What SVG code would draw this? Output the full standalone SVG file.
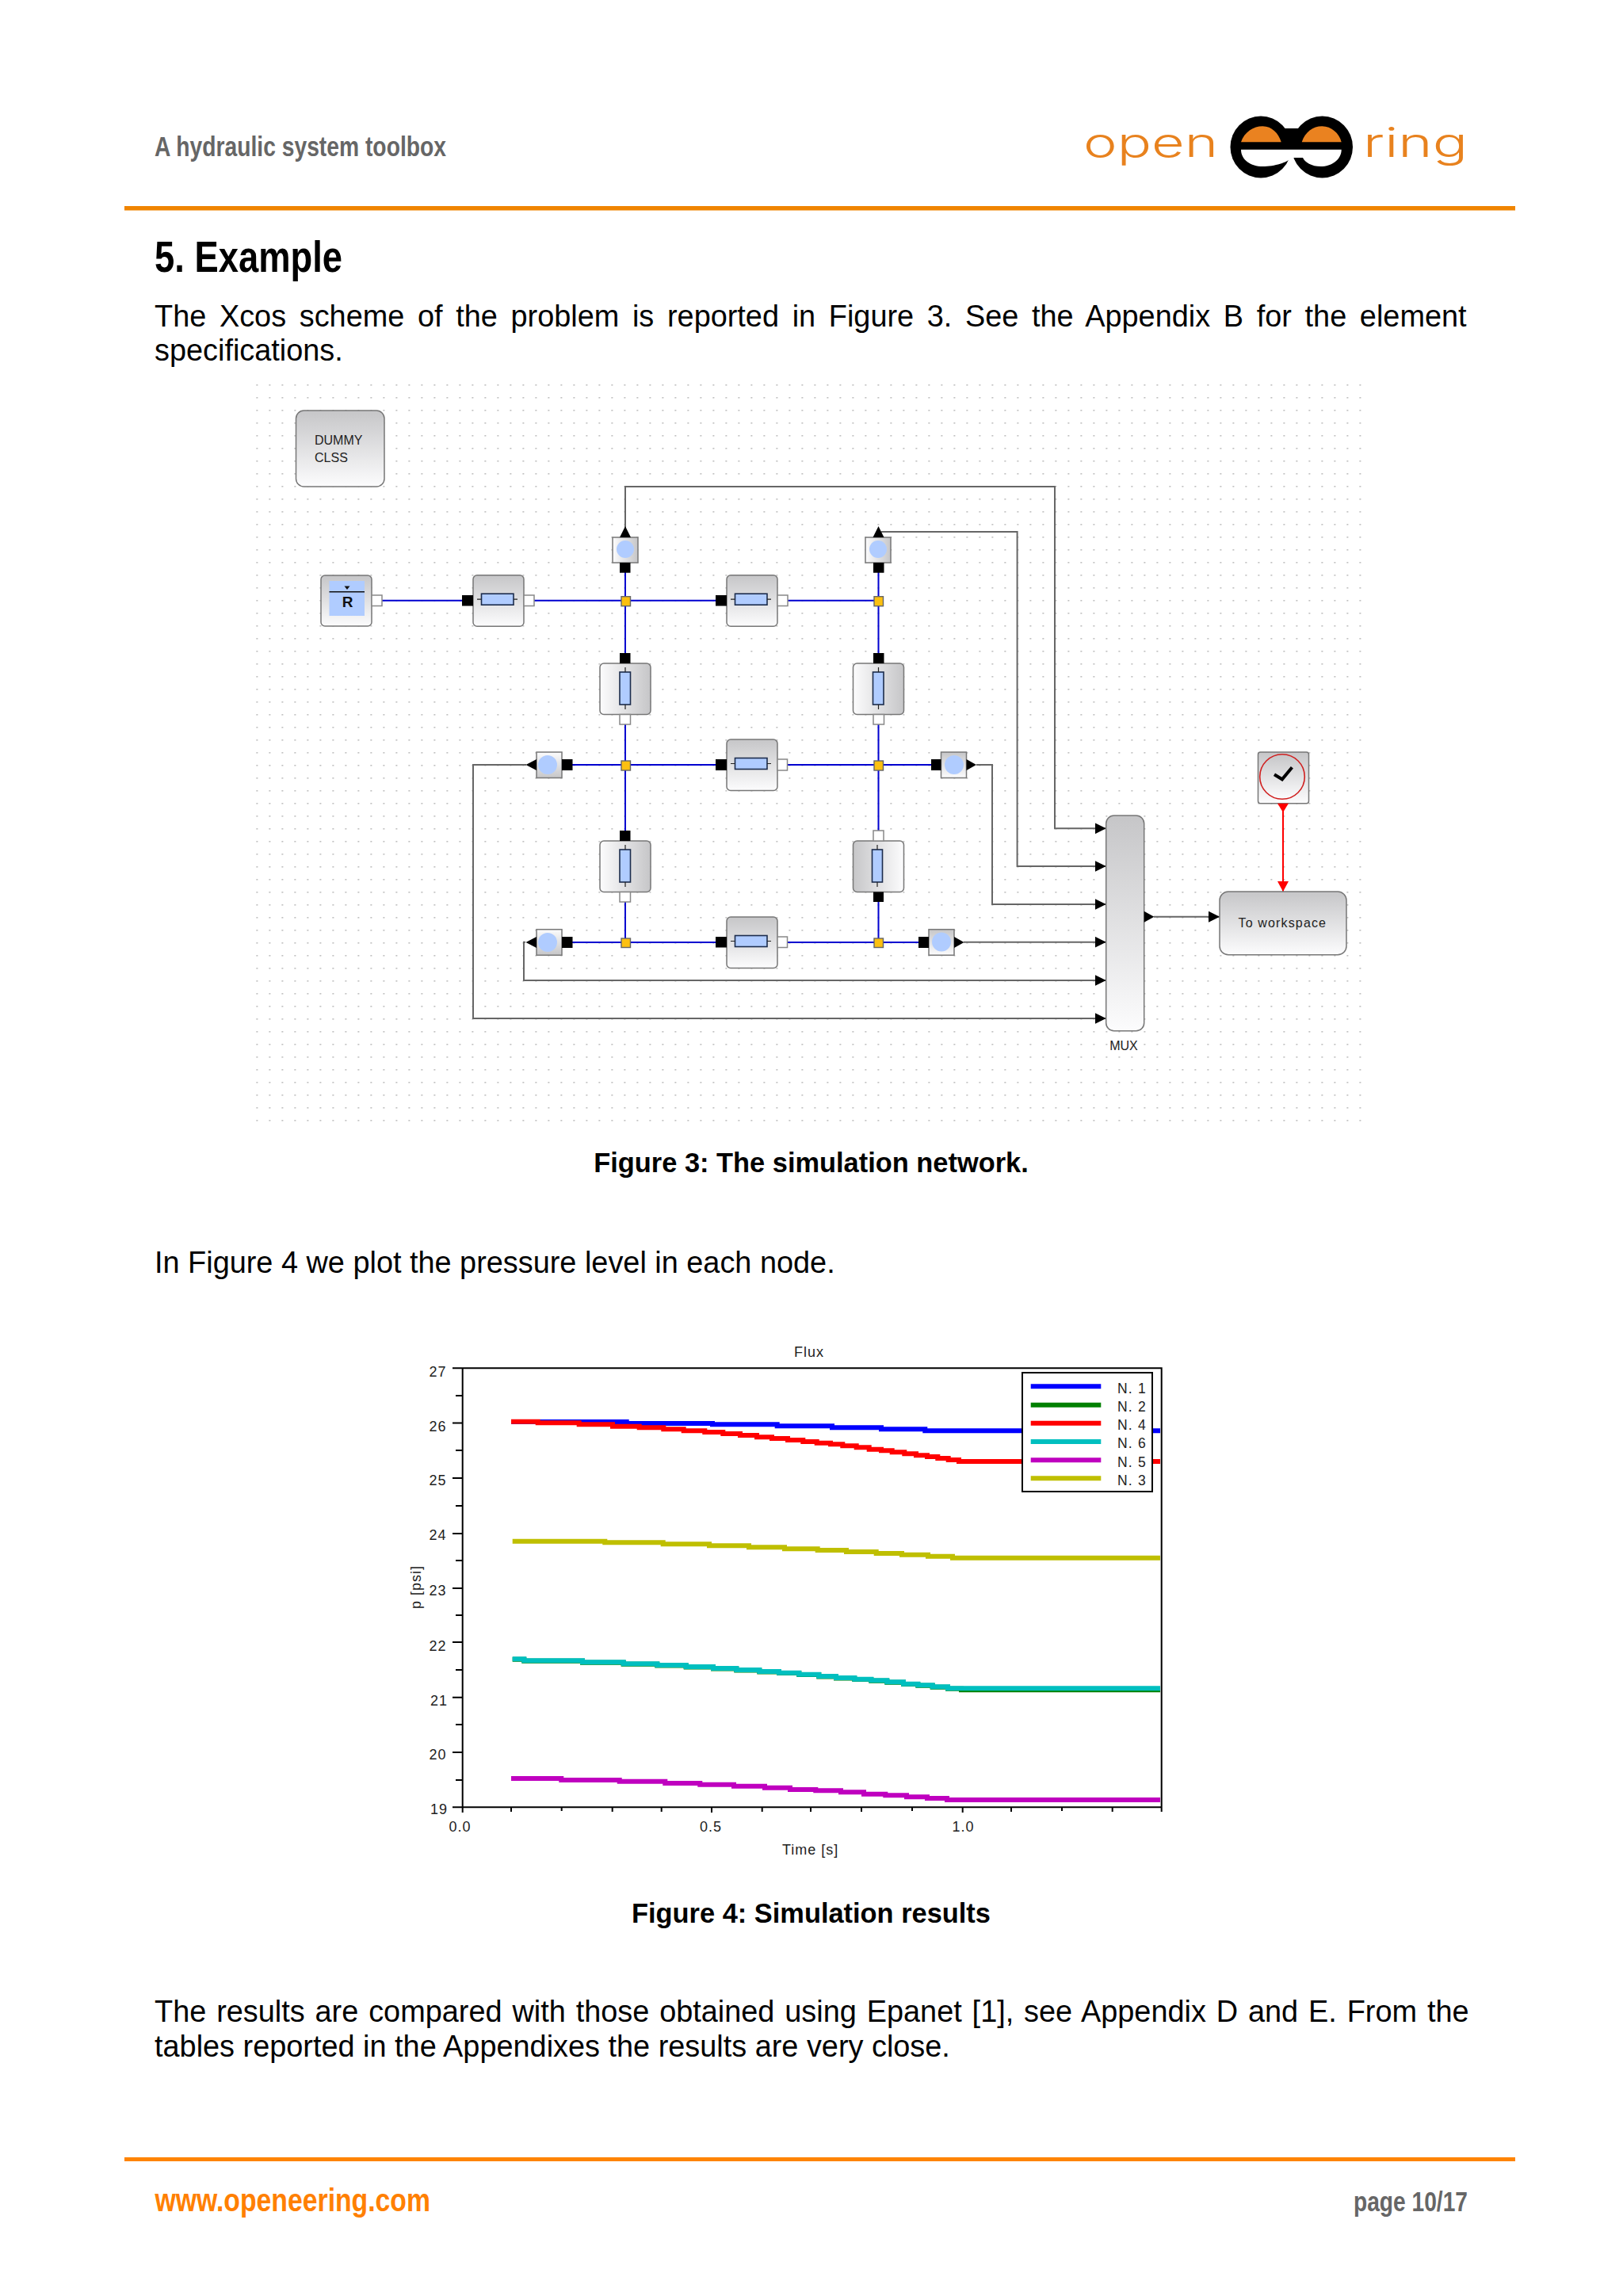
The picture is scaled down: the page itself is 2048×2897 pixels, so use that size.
<svg xmlns="http://www.w3.org/2000/svg" xmlns:xlink="http://www.w3.org/1999/xlink" width="2048" height="2897" viewBox="0 0 2048 2897">
<style>
text{font-family:"Liberation Sans",Arial,sans-serif;fill:#000}
.body{font-size:37.86px}
.cap{font-size:34.4px;font-weight:bold;text-anchor:middle}
.nar{font-family:"Liberation Sans Narrow","Liberation Sans",sans-serif;font-weight:bold}
.logo{font-family:Inter,"Liberation Sans",sans-serif;font-weight:300;font-size:51px;fill:#e8821e}
.bl{fill:url(#gv);stroke:#777;stroke-width:1.5}
.bll{fill:url(#gl);stroke:#777;stroke-width:1.5}
.blr{fill:url(#gr);stroke:#777;stroke-width:1.5}
.blu{fill:url(#gu);stroke:#777;stroke-width:1.5}
.pb{fill:#000}
.pw{fill:#fff;stroke:#888;stroke-width:1.5}
.res{fill:#b0ccff;stroke:#1c2c4c;stroke-width:1.6}
.lead{stroke:#222;stroke-width:1.2;fill:none}
.dot{fill:#b0ccff}
.jn{fill:#fcc010;stroke:#666;stroke-width:1.4}
.wb{fill:none;stroke:#0000d0;stroke-width:2}
.wg{fill:none;stroke:#666;stroke-width:2}
.wr{fill:none;stroke:#f00;stroke-width:2}
.lbl{font-size:16px;fill:#222}
.ax{stroke:#000;stroke-width:2;fill:none}
.tk{font-size:18px;letter-spacing:1px;fill:#222}
.lg{font-size:17.5px;letter-spacing:1.2px;fill:#222}
.cv{fill:none;stroke-width:6}
</style>
<defs>
<linearGradient id="gv" x1="0" y1="0" x2="0" y2="1"><stop offset="0" stop-color="#c6c6c8"/><stop offset="1" stop-color="#fcfcfd"/></linearGradient>
<linearGradient id="gu" x1="0" y1="1" x2="0" y2="0"><stop offset="0" stop-color="#c6c6c8"/><stop offset="1" stop-color="#fcfcfd"/></linearGradient>
<linearGradient id="gl" x1="0" y1="0" x2="1" y2="0"><stop offset="0" stop-color="#fcfcfd"/><stop offset="1" stop-color="#c6c6c8"/></linearGradient>
<linearGradient id="gr" x1="1" y1="0" x2="0" y2="0"><stop offset="0" stop-color="#fcfcfd"/><stop offset="1" stop-color="#c6c6c8"/></linearGradient>
<pattern id="grid" x="3.5" y="5" width="16" height="16" patternUnits="userSpaceOnUse"><rect width="1.6" height="1.6" fill="#b0b0b0"/></pattern>
<marker id="ah" markerUnits="userSpaceOnUse" markerWidth="14" markerHeight="14" refX="14" refY="7" orient="auto"><path d="M0 0L14 7L0 14Z" fill="#000"/></marker>
<marker id="ahr" markerUnits="userSpaceOnUse" markerWidth="13" markerHeight="14" refX="13" refY="7" orient="auto"><path d="M0 0L13 7L0 14Z" fill="#f00"/></marker>
<g id="hblock"><rect class="bl" width="64" height="64.5" rx="5"/><rect class="res" x="10.5" y="23.5" width="40.5" height="14"/><path class="lead" d="M5 30.5H10.5M51 30.5H56"/></g>
<g id="vbl"><rect class="bll" width="64" height="64.5" rx="5"/><rect class="res" x="25" y="11" width="13.5" height="41"/><path class="lead" d="M32 5V11M32 52V58"/></g>
<g id="vbr"><rect class="blr" width="64" height="64.5" rx="5"/><rect class="res" x="24" y="11" width="13" height="41"/><path class="lead" d="M30.5 5V11M30.5 52V58"/></g>
</defs>
<rect width="2048" height="2897" fill="#fff"/>

<g id="page-header">
<text class="nar" x="195" y="197" font-size="34.4" style="fill:#666" textLength="368" lengthAdjust="spacingAndGlyphs">A hydraulic system toolbox</text>
<g id="logo">
<text class="logo" x="1367" y="198" textLength="170" lengthAdjust="spacingAndGlyphs">open</text>
<text class="logo" x="1720" y="198" textLength="132" lengthAdjust="spacingAndGlyphs">ring</text>
<ellipse cx="1591" cy="185.5" rx="38.5" ry="39"/>
<ellipse cx="1668.5" cy="185.5" rx="38.5" ry="39"/>
<path d="M1585 162H1675V195H1585Z"/>
<path fill="#ea8220" d="M1566 179.3C1570 166.7 1581.7 159.3 1593.3 159.3C1605 159.3 1613.3 168.3 1616.7 179.3Z"/>
<path fill="#ea8220" d="M1642.7 179.3C1646.7 166.7 1656.7 159.3 1668.3 159.3C1680 159.3 1690 168.3 1692.7 179.3Z"/>
<path fill="#fff" d="M1566 188.7H1692.7C1692.7 201.7 1680 210 1666.7 210C1655 210 1646.7 205 1644 199H1629.3C1625 205 1608.3 210 1593.3 210C1578.3 210 1566 201.7 1566 188.7Z"/>
</g>
<rect x="157" y="260" width="1755" height="5.5" fill="#f08400"/>
</g>

<text class="nar" x="195" y="342.5" font-size="55" textLength="237" lengthAdjust="spacingAndGlyphs">5. Example</text>
<text class="body" x="195" y="411.5" word-spacing="6.15">The Xcos scheme of the problem is reported in Figure 3. See the Appendix B for the element</text>
<text class="body" x="195" y="455">specifications.</text>

<rect x="323" y="485" width="1395" height="931" fill="url(#grid)"/>

<g id="connectors">
<path class="wb" d="M482 757.7H583M674 757.7H903M994 757.7H1108.5M789 722V824M1108.5 722V824M789 914V1048M1108.5 914V1048M789 1138V1189M1108.5 1138V1189M722 965H903M993 965H1175M722 1189H903M993 1189H1159"/>
<path class="wg" d="M789 666V614H1331V1045.3H1395.7" marker-end="url(#ah)"/>
<path class="wg" d="M1112 671H1283.6V1093H1395.7" marker-end="url(#ah)"/>
<path class="wg" d="M1232 965H1252V1141H1395.7" marker-end="url(#ah)"/>
<path class="wg" d="M1216 1188.7H1395.7" marker-end="url(#ah)"/>
<path class="wg" d="M663 1188.7H661V1237H1395.7" marker-end="url(#ah)"/>
<path class="wg" d="M664 965H597V1285H1395.7" marker-end="url(#ah)"/>
<path class="wg" d="M1456 1156.7H1539" marker-end="url(#ah)"/>
<path class="wr" d="M1619 1020V1125" marker-end="url(#ahr)"/>
</g>

<g id="dummy-clss"><rect class="bl" x="373.5" y="518" width="111.5" height="96" rx="10"/><text class="lbl" x="397" y="561">DUMMY</text><text class="lbl" x="397" y="582.5">CLSS</text></g>

<g id="reservoir"><rect class="bl" x="405" y="726" width="64" height="64" rx="5"/><rect x="415.5" y="733" width="44.5" height="44" fill="#b0ccff"/><path d="M415.5 746.7H460" stroke="#111" stroke-width="1.6"/><path d="M434.5 739.5H441.5L438 744Z" fill="#111"/><text x="438.5" y="766" font-size="19" font-weight="bold" text-anchor="middle" style="fill:#111">R</text><rect class="pw" x="469" y="751" width="13" height="13.5"/></g>

<g id="pipe-1"><use href="#hblock" x="597" y="725.7"/><rect class="pb" x="583" y="751" width="14" height="13.5"/><rect class="pw" x="661" y="751" width="13" height="13.5"/></g>
<g id="pipe-2"><use href="#hblock" x="917" y="725.7"/><rect class="pb" x="903" y="751" width="14" height="13.5"/><rect class="pw" x="981" y="751" width="13" height="13.5"/></g>
<g id="pipe-3"><use href="#hblock" x="917" y="933"/><rect class="pb" x="903" y="958" width="14" height="14"/><rect class="pw" x="981" y="958" width="12.5" height="14"/></g>
<g id="pipe-4"><use href="#hblock" x="917" y="1157"/><rect class="pb" x="903" y="1182" width="14" height="13.5"/><rect class="pw" x="981" y="1182" width="12.5" height="13.5"/></g>
<g id="pipe-5"><use href="#vbl" x="757" y="837"/><rect class="pb" x="782" y="824" width="13.5" height="13"/><rect class="pw" x="782" y="901.5" width="13.5" height="12.5"/></g>
<g id="pipe-6"><use href="#vbl" x="1076.5" y="837"/><rect class="pb" x="1102" y="824" width="13.5" height="13"/><rect class="pw" x="1102" y="901.5" width="13.5" height="12.5"/></g>
<g id="pipe-7"><use href="#vbl" x="757" y="1061"/><rect class="pb" x="782" y="1048" width="13.5" height="13"/><rect class="pw" x="782" y="1125.5" width="13.5" height="12.5"/></g>
<g id="pipe-8"><use href="#vbr" x="1076.5" y="1061"/><rect class="pw" x="1102" y="1048" width="13" height="13"/><rect class="pb" x="1102" y="1125.5" width="13" height="12.5"/></g>

<g id="junction-1"><rect class="jn" x="784" y="752.7" width="11.5" height="12"/></g>
<g id="junction-2"><rect class="jn" x="1103" y="752.7" width="11.5" height="12"/></g>
<g id="junction-3"><rect class="jn" x="784" y="960" width="11.5" height="12"/></g>
<g id="junction-4"><rect class="jn" x="1103" y="960" width="11.5" height="12"/></g>
<g id="junction-5"><rect class="jn" x="784" y="1184" width="11.5" height="11.5"/></g>
<g id="junction-6"><rect class="jn" x="1103" y="1184" width="11.5" height="11.5"/></g>

<g id="sensor-1"><rect class="bll" x="773" y="678" width="32" height="32"/><circle class="dot" cx="789" cy="693" r="11"/><path class="pb" d="M782 678L789 664L796 678Z"/><rect class="pb" x="782" y="710" width="13.5" height="12.7"/></g>
<g id="sensor-2"><rect class="bll" x="1092" y="678" width="32" height="32"/><circle class="dot" cx="1108" cy="693" r="11"/><path class="pb" d="M1101.5 678L1108.5 664L1115.5 678Z"/><rect class="pb" x="1102" y="710" width="13.5" height="12.7"/></g>
<g id="sensor-3"><rect class="blu" x="677" y="949" width="32" height="32.5"/><circle class="dot" cx="691" cy="965" r="12"/><path class="pb" d="M677 958V972L663.5 965Z"/><rect class="pb" x="709" y="958" width="13.5" height="14"/></g>
<g id="sensor-4"><rect class="bl" x="1187.5" y="949" width="32" height="32.5"/><circle class="dot" cx="1204" cy="965" r="12"/><path class="pb" d="M1219.5 958V972L1232 965Z"/><rect class="pb" x="1175" y="958" width="12.5" height="14"/></g>
<g id="sensor-5"><rect class="blu" x="677" y="1172.7" width="32" height="32.5"/><circle class="dot" cx="691" cy="1189" r="12"/><path class="pb" d="M677 1182V1196L663.5 1189Z"/><rect class="pb" x="709" y="1182" width="13.5" height="14"/></g>
<g id="sensor-6"><rect class="bl" x="1172" y="1172.7" width="32" height="32.5"/><circle class="dot" cx="1188" cy="1188.5" r="12"/><path class="pb" d="M1204 1182V1196L1216.5 1189Z"/><rect class="pb" x="1159" y="1182" width="13" height="14"/></g>

<g id="mux"><rect class="bl" x="1395.7" y="1029" width="48" height="271.7" rx="10"/><path class="pb" d="M1443.7 1149.7V1163.7L1456.4 1156.7Z"/><text class="lbl" x="1418" y="1325" text-anchor="middle">MUX</text></g>
<g id="to-workspace"><rect class="bl" x="1539" y="1125" width="160" height="79.7" rx="11"/><text class="lbl" x="1562.5" y="1170" textLength="110.5">To workspace</text></g>
<g id="clock"><rect class="bl" x="1587.5" y="949" width="64" height="64.7" rx="3"/><circle cx="1618" cy="980" r="28.3" fill="url(#gv)" stroke="#d02020" stroke-width="1.6"/><path d="M1608 977.3L1617.9 983.3L1630.4 968.3" fill="none" stroke="#000" stroke-width="4"/><path d="M1612 1013.7H1626L1619 1025Z" fill="#f00"/></g>

<text class="cap" x="1023.5" y="1479">Figure 3: The simulation network.</text>
<text class="body" x="195" y="1606">In Figure 4 we plot the pressure level in each node.</text>

<g id="chart">
<text class="tk" x="1002" y="1712">Flux</text>
<path class="ax" d="M571 1726.3H1465.7V2286M583.7 1726.3V2287M571 2280.3H1465.7"/>
<path class="ax" d="M571 1795.5H584M575 1761H584M575 1830H584M571 1865H584M575 1900H584M571 1935H584M575 1969H584M571 2004H584M575 2038H584M571 2072H584M575 2107H584M571 2141.7H584M575 2176H584M571 2211H584M575 2246H584M645 2280V2286M708.7 2280V2285M772.7 2280V2286M834.7 2280V2286M898 2280V2287M961.7 2280V2286M1023 2280V2286M1087 2280V2286M1151 2280V2285M1214.7 2280V2287M1276 2280V2286M1340 2280V2285M1403.7 2280V2286"/>
<text class="tk" x="541.5" y="1736.7">27</text><text class="tk" x="541.5" y="1806">26</text><text class="tk" x="541.5" y="1874">25</text><text class="tk" x="541.5" y="1943">24</text><text class="tk" x="541.5" y="2013">23</text><text class="tk" x="541.5" y="2082.7">22</text><text class="tk" x="543" y="2152">21</text><text class="tk" x="541.5" y="2220">20</text><text class="tk" x="543" y="2289">19</text>
<text class="tk" x="566.5" y="2310.7">0.0</text><text class="tk" x="883" y="2310.7">0.5</text><text class="tk" x="1201.5" y="2310.7">1.0</text>
<text class="tk" x="987" y="2340">Time [s]</text>
<text class="tk" transform="translate(530.5 2030) rotate(-90)">p [psi]</text>
<path class="cv" stroke="#00f" d="M645 1794H790.7V1796H899V1797.3H980.7V1799.3H1050V1801.3H1112V1803.3H1167.3V1805.3H1464"/>
<path class="cv" stroke="#008000" d="M646.7 2093.7H661.3V2095.7H735V2097.7H786.7V2099.7H829.3V2101.4H865.7V2103.4H900V2105.4H929.3V2107.4H958.3V2109.4H983V2111.1H1008.3V2113.1H1033.3V2115.4H1055V2117.4H1078.3V2119.1H1099.3V2120.7H1119.3V2122.7H1140V2125.1H1158.3V2126.7H1176.7V2128.7H1196V2130.7H1213V2132.3H1464"/>
<path class="cv" stroke="#f00" d="M645 1793.7H678.7V1795.3H730.7V1797.3H773V1799.7H806.7V1801.3H837.3V1803.3H862.7V1805.3H889.3V1807H912.3V1809H934V1811H955V1813.3H974V1815H994V1817H1013.3V1819H1030.7V1820.7H1048V1822.3H1063.3V1824.3H1080.7V1826.3H1096.7V1828.7H1112V1830.3H1125.7V1832.3H1141.3V1834.3H1156V1836.3H1170V1838H1183.3V1840H1196.7V1842H1210V1844H1464"/>
<path class="cv" stroke="#00bfbf" d="M646.7 2093.3H661.3V2095.3H735V2097.3H786.7V2099.3H829.3V2101H865.7V2103H900V2105H929.3V2107H958.3V2109H983V2110.7H1008.3V2112.7H1033.3V2115H1055V2117H1078.3V2118.7H1099.3V2120.3H1119.3V2122.3H1140V2124.7H1158.3V2126.3H1176.7V2128.3H1196V2130.3H1464"/>
<path class="cv" stroke="#bf00bf" d="M645 2244H708.3V2246H781.7V2247.7H839.3V2250H883.3V2251.7H926V2253.7H965V2255.7H997V2258H1029.3V2259.3H1061V2261.3H1090V2263.7H1117.3V2265.3H1144V2267.3H1170V2269H1195V2271H1464"/>
<path class="cv" stroke="#bfbf00" d="M646.7 1944.7H763.3V1946.3H836.7V1948.3H895V1950.3H945V1952.3H990V1954.3H1031.7V1956H1068V1958H1105.7V1960H1138V1961.7H1171V1963.7H1202V1965.7H1464"/>
<g id="legend">
<rect x="1290" y="1732" width="164" height="150" fill="#fff" stroke="#000" stroke-width="2"/>
<path class="cv" stroke="#00f" d="M1300.7 1749.3H1389.3"/><path class="cv" stroke="#008000" d="M1300.7 1772.7H1389.3"/><path class="cv" stroke="#f00" d="M1300.7 1795.7H1389.3"/><path class="cv" stroke="#00bfbf" d="M1300.7 1819H1389.3"/><path class="cv" stroke="#bf00bf" d="M1300.7 1842.3H1389.3"/><path class="cv" stroke="#bfbf00" d="M1300.7 1865.3H1389.3"/>
<text class="lg" x="1410" y="1758">N. 1</text><text class="lg" x="1410" y="1781">N. 2</text><text class="lg" x="1410" y="1804.3">N. 4</text><text class="lg" x="1410" y="1827.3">N. 6</text><text class="lg" x="1410" y="1850.7">N. 5</text><text class="lg" x="1410" y="1873.7">N. 3</text>
</g>
</g>

<text class="cap" x="1023.5" y="2426">Figure 4: Simulation results</text>
<text class="body" x="195" y="2551" word-spacing="2.38">The results are compared with those obtained using Epanet [1], see Appendix D and E. From the</text>
<text class="body" x="195" y="2595">tables reported in the Appendixes the results are very close.</text>

<g id="page-footer">
<rect x="157" y="2722" width="1755" height="5" fill="#ff8400"/>
<text class="nar" x="195.5" y="2790" font-size="41.3" style="fill:#ff8000" textLength="347.5" lengthAdjust="spacingAndGlyphs">www.openeering.com</text>
<text class="nar" x="1708" y="2790" font-size="34.4" style="fill:#666" textLength="144" lengthAdjust="spacingAndGlyphs">page 10/17</text>
</g>
</svg>
